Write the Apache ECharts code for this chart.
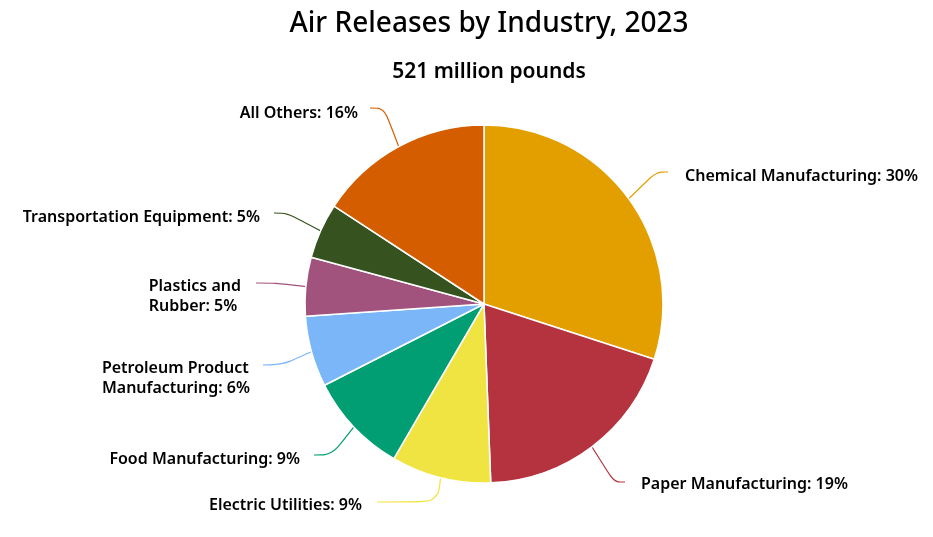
<!DOCTYPE html>
<html>
<head>
<meta charset="utf-8">
<script src="https://cdn.jsdelivr.net/npm/echarts@6/dist/echarts.min.js"></script>
<style>
html,body{margin:0;padding:0;background:#fff;}
#chart{width:933px;height:537px;}
</style>
</head>
<body>
<div id="chart"></div>
<script>
// ---- data ----
var titleText = 'Air Releases by Industry, 2023';
var subtitleText = '521 million pounds';
var categories = [
  'Chemical Manufacturing',
  'Paper Manufacturing',
  'Electric Utilities',
  'Food Manufacturing',
  'Petroleum Product\nManufacturing',
  'Plastics and\nRubber',
  'Transportation Equipment',
  'All Others'
];
var shares = [30.0, 19.4, 9.0, 9.1, 6.4, 5.3, 5.0, 15.8];
var colors = ['#E39E00', '#B5323F', '#F0E442', '#009E72', '#7BB7F8', '#A2537D', '#36521F', '#D45D00'];

// ---- label placement (layout only) ----
var labelPlace = [
  {side: 'r', tx: 685, ty: 176, ex: 668, ey: 172, kx: 656},
  {side: 'r', tx: 641, ty: 484, ex: 625, ey: 482, kx: 614},
  {side: 'l', tx: 362, ty: 505, ex: 377, ey: 502, kx: 438},
  {side: 'l', tx: 300, ty: 459, ex: 314, ey: 455, kx: 332},
  {side: 'l', tx: 250, ty: 378, ex: 263, ey: 365, kx: 282},
  {side: 'l', tx: 241, ty: 296, ex: 256, ey: 283, kx: 276},
  {side: 'l', tx: 260, ty: 217, ex: 274, ey: 213, kx: 287},
  {side: 'l', tx: 358, ty: 113, ex: 370, ey: 108, kx: 384}
];

var chart = echarts.init(document.getElementById('chart'), null, {renderer: 'canvas'});
var fontFam = '"Noto Sans", "DejaVu Sans", sans-serif';

var pieData = categories.map(function (c, i) {
  return {
    name: c,
    value: shares[i],
    itemStyle: {color: colors[i]},
    labelLine: {lineStyle: {color: colors[i]}}
  };
});

chart.setOption({
  backgroundColor: '#ffffff',
  animation: false,
  title: [
    {
      text: titleText,
      left: 484,
      textAlign: 'center',
      top: 5,
      textStyle: {fontFamily: fontFam, fontSize: 28, fontWeight: 500, color: '#000'}
    },
    {
      text: subtitleText,
      left: 484,
      textAlign: 'center',
      top: 57,
      textStyle: {fontFamily: fontFam, fontSize: 21, fontWeight: 600, color: '#000'}
    }
  ],
  series: [{
    type: 'pie',
    center: [484, 304],
    radius: [0, 179],
    startAngle: 90,
    clockwise: true,
    data: pieData,
    itemStyle: {borderColor: '#ffffff', borderWidth: 1.5},
    label: {
      show: true,
      position: 'outside',
      fontFamily: fontFam,
      fontSize: 16,
      fontWeight: 600,
      color: '#000',
      lineHeight: 20,
      formatter: function (p) {
        return p.name + ': ' + Math.round(p.percent) + '%';
      }
    },
    labelLine: {show: true, smooth: 0.35, length: 20, length2: 10, lineStyle: {width: 1.2}},
    labelLayout: function (p) {
      var s = labelPlace[p.dataIndex];
      var w = p.labelRect.width;
      var x = s.side === 'r' ? s.tx : s.tx - w;
      var start = p.labelLinePoints ? p.labelLinePoints[0] : [s.kx, s.ey];
      return {
        x: x,
        y: s.ty,
        align: 'left',
        verticalAlign: 'middle',
        labelLinePoints: [start, [s.kx, s.ey], [s.ex, s.ey]]
      };
    },
    emphasis: {disabled: true}
  }]
});
</script>
</body>
</html>
